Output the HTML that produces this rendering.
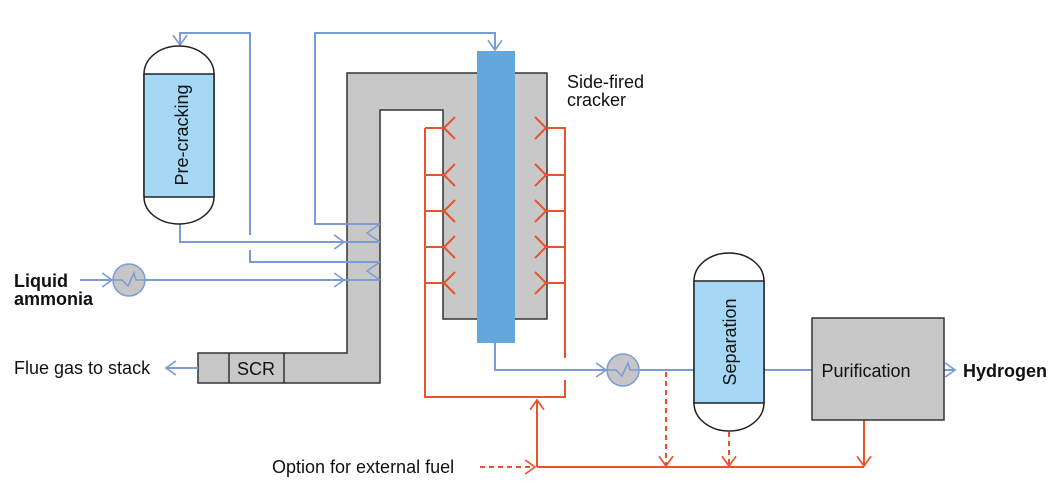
<!DOCTYPE html>
<html><head><meta charset="utf-8"><style>
html,body{margin:0;padding:0;background:#fff;}
svg{display:block;font-family:"Liberation Sans",sans-serif;}
</style></head><body>
<svg width="1063" height="487" viewBox="0 0 1063 487" xmlns="http://www.w3.org/2000/svg">
<defs>
<marker id="ab" viewBox="0 0 10 10" refX="9" refY="5" markerWidth="14" markerHeight="16" markerUnits="userSpaceOnUse" orient="auto"><path d="M2,0 L9,5 L2,10" fill="none" stroke="#7a9bd6" stroke-width="1.2"/></marker>
<marker id="ar" viewBox="0 0 10 10" refX="9" refY="5" markerWidth="14" markerHeight="16" markerUnits="userSpaceOnUse" orient="auto"><path d="M2,0 L9,5 L2,10" fill="none" stroke="#e8532b" stroke-width="1.2"/></marker>
</defs>
<polygon points="347,73 547,73 547,319 443,319 443,110 380,110 380,383 198,383 198,353 347,353" fill="#c9c8c9" stroke="#333" stroke-width="1.5"/>
<line x1="229" y1="353" x2="229" y2="383" stroke="#333" stroke-width="1.5"/>
<line x1="284" y1="353" x2="284" y2="383" stroke="#333" stroke-width="1.5"/>
<text x="256" y="375" font-size="18" text-anchor="middle" fill="#111">SCR</text>
<g stroke="#e8532b" stroke-width="2" fill="none">
<polyline points="425,128 425,397 565,397 565,380"/>
<polyline points="565,358 565,128 547,128"/>
<g>
<line x1="425" y1="128" x2="444" y2="128"/><line x1="425" y1="175" x2="444" y2="175"/><line x1="425" y1="211" x2="444" y2="211"/><line x1="425" y1="247" x2="444" y2="247"/><line x1="425" y1="283" x2="444" y2="283"/>
<line x1="546" y1="175" x2="565" y2="175"/><line x1="546" y1="211" x2="565" y2="211"/><line x1="546" y1="247" x2="565" y2="247"/><line x1="546" y1="283" x2="565" y2="283"/>
<path d="M455,117 L444,128 L455,139 M455,164 L444,175 L455,186 M455,200 L444,211 L455,222 M455,236 L444,247 L455,258 M455,272 L444,283 L455,294"/>
<path d="M535,117 L546,128 L535,139 M535,164 L546,175 L535,186 M535,200 L546,211 L535,222 M535,236 L546,247 L535,258 M535,272 L546,283 L535,294"/>
</g>
<line x1="537" y1="467" x2="537" y2="400" marker-end="url(#ar)"/>
<line x1="537" y1="467" x2="864" y2="467"/>
<line x1="864" y1="420" x2="864" y2="466" marker-end="url(#ar)"/>
<line x1="666" y1="372" x2="666" y2="466" stroke-dasharray="5,4" marker-end="url(#ar)"/>
<line x1="729" y1="432" x2="729" y2="466" stroke-dasharray="5,4" marker-end="url(#ar)"/>
<line x1="480" y1="467" x2="535" y2="467" stroke-dasharray="5,4" marker-end="url(#ar)"/>
</g>
<rect x="477" y="51" width="38" height="292" fill="#62a8dc"/>
<g stroke="#7a9bd6" stroke-width="2" fill="none">
<polyline points="250,235 250,33 180,33 180,45" marker-end="url(#ab)"/>
<polyline points="380,224 315,224 315,33 495,33 495,50" marker-end="url(#ab)"/>
<polyline points="180,224 180,242 344,242" marker-end="url(#ab)"/>
<line x1="344" y1="242" x2="380" y2="242"/>
<polyline points="250,250 250,262 380,262"/>
<line x1="145" y1="280" x2="344" y2="280" marker-end="url(#ab)"/>
<line x1="344" y1="280" x2="380" y2="280"/>
<path d="M380,224 L367,233 L380,242 M380,262 L367,271 L380,280" stroke-width="1.5"/>
<line x1="80" y1="280" x2="112" y2="280" marker-end="url(#ab)"/>
<line x1="198" y1="368" x2="166" y2="368" marker-end="url(#ab)"/>
<polyline points="495,343 495,370 606,370" marker-end="url(#ab)"/>
<line x1="639" y1="370" x2="694" y2="370"/>
<line x1="764" y1="370" x2="812" y2="370"/>
<line x1="944" y1="370" x2="955" y2="370" marker-end="url(#ab)"/>
</g>
<g stroke="#7a9bd6" stroke-width="1.5">
<circle cx="129" cy="280" r="16" fill="#c6c6c8"/>
<path d="M113,280 L122,280 L128,286 L134,273 L136,280 L145,280" fill="none"/>
<circle cx="623" cy="370" r="16" fill="#c6c6c8"/>
<path d="M607,370 L616,370 L622,376 L628,363 L630,370 L639,370" fill="none"/>
</g>
<path d="M144,74 A35,28 0 0 1 214,74 L214,197 A35,27 0 0 1 144,197 Z" fill="#fff" stroke="#222" stroke-width="1.5"/>
<rect x="144" y="74" width="70" height="123" fill="#a4d8f5" stroke="#222" stroke-width="1.5"/>
<text transform="translate(188,135) rotate(-90)" font-size="18" text-anchor="middle" fill="#111">Pre-cracking</text>
<path d="M694,281 A35,28 0 0 1 764,281 L764,403 A35,28 0 0 1 694,403 Z" fill="#fff" stroke="#222" stroke-width="1.5"/>
<rect x="694" y="281" width="70" height="122" fill="#a4d8f5" stroke="#222" stroke-width="1.5"/>
<text transform="translate(736,342) rotate(-90)" font-size="18" text-anchor="middle" fill="#111">Separation</text>
<rect x="812" y="318" width="132" height="102" fill="#c9c8c9" stroke="#333" stroke-width="1.5"/>
<text x="866" y="377" font-size="18" text-anchor="middle" fill="#111">Purification</text>
<text x="14" y="287" font-size="18" font-weight="bold" fill="#111">Liquid</text>
<text x="14" y="305" font-size="18" font-weight="bold" fill="#111">ammonia</text>
<text x="14" y="374" font-size="18" fill="#111">Flue gas to stack</text>
<text x="567" y="88" font-size="18" fill="#111">Side-fired</text>
<text x="567" y="106" font-size="18" fill="#111">cracker</text>
<text x="963" y="377" font-size="18" font-weight="bold" fill="#111">Hydrogen</text>
<text x="272" y="473" font-size="18" fill="#111">Option for external fuel</text>
</svg>
</body></html>
